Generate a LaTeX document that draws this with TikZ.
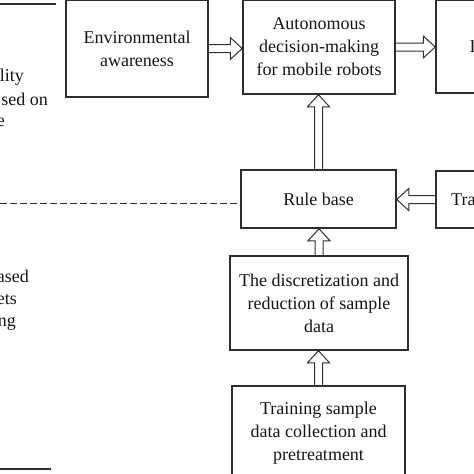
\documentclass[tikz,border=0pt]{standalone}
\usepackage{fontspec}
\setmainfont{Liberation Serif}
\usetikzlibrary{calc}
\definecolor{linec}{HTML}{2E2E2E}
\definecolor{textc}{HTML}{151515}
\begin{document}
\begin{tikzpicture}[x=1pt,y=-1pt,
  box/.style={draw=linec, line width=1.5pt, rectangle, inner sep=0pt, align=center,
    text=textc, font=\fontsize{18}{23}\selectfont},
  lbl/.style={inner sep=0pt, text=textc, font=\fontsize{18}{23}\selectfont},
  frame/.style={draw=linec, line width=1.5pt},
  hollow/.style={draw=linec, line width=1pt, line join=miter, to path={
    ($(\tikztostart)!4pt!90:(\tikztotarget)$)
    -- ($($(\tikztotarget)!12pt!(\tikztostart)$)!4pt!90:(\tikztotarget)$)
    -- ($($(\tikztotarget)!12pt!(\tikztostart)$)!11pt!90:(\tikztotarget)$)
    -- (\tikztotarget)
    -- ($($(\tikztotarget)!12pt!(\tikztostart)$)!11pt!-90:(\tikztotarget)$)
    -- ($($(\tikztotarget)!12pt!(\tikztostart)$)!4pt!-90:(\tikztotarget)$)
    -- ($(\tikztostart)!4pt!-90:(\tikztotarget)$)}}
]
\useasboundingbox (0,0) rectangle (474,474);
\clip (0,0) rectangle (474,474);

% boxes
\node[box, minimum width=142pt, minimum height=97pt] (env) at (137,48.5) {Environmental\\awareness};
\node[box, minimum width=152pt, minimum height=94pt] (auto) at (319,47) {Autonomous\\decision-making\\for mobile robots};
\node[box, minimum width=150pt, minimum height=93pt] (rt) at (511,46.5) {};
\node[lbl, anchor=west] (rtt) at (469.5,46.5) {I};
\node[box, minimum width=155pt, minimum height=58pt] (rule) at (318.5,199) {Rule base};
\node[box, minimum width=150pt, minimum height=57pt] (tra) at (511,199.5) {};
\node[lbl, anchor=west] (trat) at (451,199.5) {Tra};
\node[box, minimum width=178pt, minimum height=94pt] (disc) at (319,303) {The discretization and\\reduction of sample\\data};
\node[box, minimum width=173pt, minimum height=94pt] (train) at (318.5,433) {Training sample\\data collection and\\pretreatment};

% arrows
\draw[hollow] (env.east) to (env.east -| auto.west);
\draw[hollow] (auto.east) to (auto.east -| rt.west);
\draw[hollow] (rule.north) to (rule.north |- auto.south);
\draw[hollow] (tra.west) to (tra.west -| rule.east);
\draw[hollow] (disc.north) to (disc.north |- rule.south);
\draw[hollow] (train.north) to (train.north |- disc.south);

% left side frame pieces and dashed separator
\draw[frame] (0,4) -- (56,4);
\draw[frame] (0,469) -- (51,469);
\coordinate (dl) at (0,203);
\draw[draw=linec, line width=1pt, dash pattern=on 6.5pt off 3.5pt] (dl) -- (dl -| rule.west);

% left text fragments
\node[lbl, anchor=east] (t1) at (24,77) {lity};
\node[lbl, anchor=east] (t2) at (48,99) {sed on};
\node[lbl, anchor=east] (t3) at (5,122) {e};
\node[lbl, anchor=east] (t4) at (29,276) {ased};
\node[lbl, anchor=east] (t5) at (17,300) {ets};
\node[lbl, anchor=east] (t6) at (16,324) {ng};
\end{tikzpicture}
\end{document}
